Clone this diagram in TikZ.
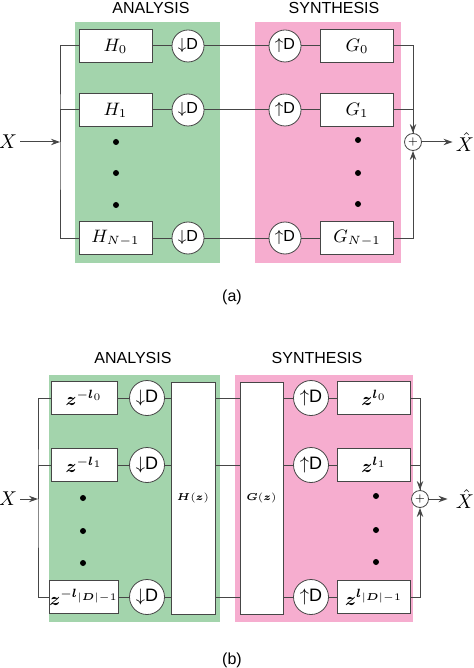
\documentclass[tikz,border=0pt]{standalone}
\usepackage{amsmath}
\usepackage{bm}
\usepackage{fontspec}
\setsansfont{Liberation Sans}
\usetikzlibrary{positioning,calc,arrows.meta}

\definecolor{anagreen}{RGB}{163,212,172}
\definecolor{synpink}{RGB}{246,173,207}
\definecolor{wire}{RGB}{70,70,70}

\tikzset{
  filt/.style={draw=wire, fill=white, minimum width=36.5pt, minimum height=16.5pt, inner sep=0pt, font=\small},
  rate/.style={circle, draw=wire, fill=white, minimum size=16pt, inner sep=0pt, font=\sffamily\footnotesize},
  adder/.style={circle, draw=wire, fill=white, minimum size=8.5pt, inner sep=0pt, font=\tiny},
  band/.style={font=\sffamily\footnotesize},
  wires/.style={draw=wire, line width=0.5pt},
  sig/.style={inner sep=1.5pt},
}

\begin{document}
\begin{tikzpicture}[x=0.5pt,y=-0.5pt,>={Stealth[length=4.5pt,width=3.2pt]}]
\useasboundingbox (0,0) rectangle (474,668);
% (a) filter bank
\fill[anagreen] (75,22) rectangle (220,263);
\fill[synpink] (255,22) rectangle (401,263);
\node[band] (a-ana) at (151,8) {ANALYSIS};
\node[band] (a-syn) at (334,8) {SYNTHESIS};
\foreach \r/\y/\s in {0/46/0, 1/110/1, 2/238/{N-1}} {
  \node[filt] (a-h\r) at (115.5,\y) {$H_{\s}$};
  \node[rate] (a-d\r) at (188,\y) {$\downarrow$D};
  \node[rate] (a-u\r) at (285,\y) {$\uparrow$D};
  \node[filt] (a-g\r) at (357,\y) {$G_{\s}$};
  \draw[wires] (a-h\r) -- (a-d\r) -- (a-u\r) -- (a-g\r);
}
\foreach \y in {142,173,205} \fill (116,\y) circle (1.5pt);
\foreach \y in {140,173,204} \fill (358,\y) circle (1.5pt);
\node[sig] (a-x) at (8,142) {$X$};
\coordinate (a-in) at (60,142);
\draw[wires,->] (a-x) -- (a-in);
\draw[wires] (a-h0.west) -| (a-in) |- (a-h2.west);
\draw[wires] (a-in) |- (a-h1.west);
\node[adder] (a-sum) at (413,142) {$+$};
\node[sig] (a-xh) at (465,142) {$\hat{X}$};
\draw[wires,->] (a-g0.east) -| (a-sum.north);
\draw[wires] (a-g1.east) -| (a-sum.north);
\draw[wires,->] (a-g2.east) -| (a-sum.south);
\draw[wires,->] (a-sum) -- (a-xh);
\node[band] (a-cap) at (232,297) {(a)};

% (b) with polyphase matrices
\fill[anagreen] (49,375) rectangle (220,622);
\fill[synpink] (235,375) rectangle (413,622);
\node[band] (b-ana) at (133,358) {ANALYSIS};
\node[band] (b-syn) at (317,358) {SYNTHESIS};
\node[filt, minimum width=22pt, minimum height=116pt, font=\tiny] (b-hz) at (193,498) {$\bm{H}(\bm{z})$};
\node[filt, minimum width=21.5pt, minimum height=116pt, font=\tiny] (b-gz) at (261.5,498) {$\bm{G}(\bm{z})$};
\foreach \r/\y/\s in {0/398/0, 1/465/1, 2/597/{|\bm{D}|-1}} {
  \node[filt, minimum width=33pt] (b-z\r) at (84,\y) {$\bm{z}^{-\bm{l}_{\s}}$};
  \node[rate, minimum size=17.5pt, font=\sffamily\small] (b-d\r) at (147,\y) {$\downarrow$D};
  \node[rate, minimum size=17.5pt, font=\sffamily\small] (b-u\r) at (311,\y) {$\uparrow$D};
  \node[filt] (b-l\r) at (374,\y) {$\bm{z}^{\bm{l}_{\s}}$};
  \draw[wires] (b-z\r) -- (b-d\r) -- (b-d\r -| b-hz.west);
  \draw[wires] (b-hz.east |- b-d\r) -- (b-gz.west |- b-d\r);
  \draw[wires] (b-gz.east |- b-u\r) -- (b-u\r) -- (b-l\r);
}
\foreach \y in {498,531,563} \fill (83,\y) circle (1.5pt);
\foreach \y in {496,530,562} \fill (376,\y) circle (1.5pt);
\node[sig] (b-x) at (8,499) {$X$};
\coordinate (b-in) at (38,499);
\draw[wires,->] (b-x) -- (b-in);
\draw[wires] (b-z0.west) -| (b-in) |- (b-z2.west);
\draw[wires] (b-in) |- (b-z1.west);
\node[adder] (b-sum) at (420,499) {$+$};
\node[sig, inner sep=4pt] (b-xh) at (465,499) {$\hat{X}$};
\draw[wires,->] (b-l0.east) -| (b-sum.north);
\draw[wires] (b-l1.east) -| (b-sum.north);
\draw[wires,->] (b-l2.east) -| (b-sum.south);
\draw[wires,->] (b-sum) -- (b-xh);
\node[band] (b-cap) at (232,660) {(b)};
\end{tikzpicture}
\end{document}
